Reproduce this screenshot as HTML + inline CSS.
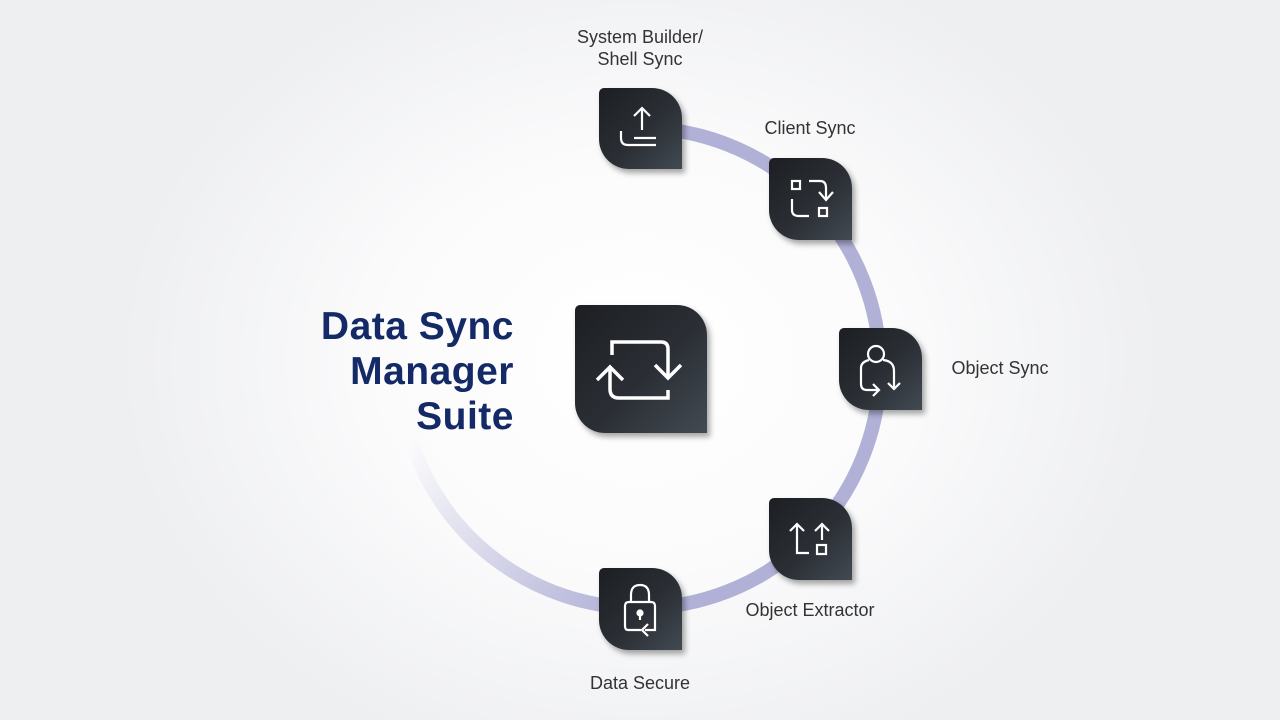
<!DOCTYPE html>
<html><head><meta charset="utf-8"><style>
html,body{margin:0;padding:0}
body{width:1280px;height:720px;position:relative;overflow:hidden;font-family:"Liberation Sans",sans-serif;
background:radial-gradient(ellipse 520px 420px at 640px 360px,#ffffff 0%,#fbfbfc 50%,#eeeff1 100%);}
.t{position:absolute;background:linear-gradient(135deg,#1c1e22 0%,#2b2f35 55%,#424a52 100%);
border-radius:5px 30px 0 30px;box-shadow:3px 4px 6px rgba(0,0,0,.35);}
.t svg{position:absolute;left:0;top:0;width:100%;height:100%}
.l{position:absolute;color:#333;font-size:18px;text-align:center;line-height:22px}
.title{position:absolute;right:766px;top:304px;text-align:right;color:#132a66;font-weight:bold;font-size:39px;line-height:45px;letter-spacing:.5px}
</style></head><body>
<svg width="1280" height="720" style="position:absolute;left:0;top:0">
<defs><linearGradient id="g" gradientUnits="userSpaceOnUse" x1="640" y1="608" x2="410" y2="440">
<stop offset="0" stop-color="#aeaed6"/><stop offset="1" stop-color="#aeaed6" stop-opacity="0"/></linearGradient></defs>
<path d="M640 128 A240 240 0 0 1 640 608" fill="none" stroke="#b1b1d7" stroke-width="14"/>
<path d="M640 608 A240 240 0 0 1 406 421" fill="none" stroke="url(#g)" stroke-width="14"/>
</svg>
<div class="title">Data Sync<br>Manager<br>Suite</div>

<div class="t" style="left:575px;top:305px;width:132px;height:128px">
<svg viewBox="0 0 132 128" fill="none" stroke="#fff" stroke-width="3.5">
<path d="M37 50 V37 H86 Q93 37 93 44 V73"/><path d="M80 60 L93 73 L106 60"/>
<path d="M35 63 V84 Q35 93 44 93 H93 V85"/><path d="M22 75 L35 62 L48 75"/></svg></div>

<div class="t" style="left:599px;top:88px;width:83px;height:81px">
<svg viewBox="0 0 83 81" fill="none" stroke="#fff" stroke-width="2.2">
<path d="M43 20 V42"/><path d="M35 28 L43 20 L51 28"/><path d="M22 43 V50 Q22 57 29 57 H57"/><path d="M35 50 H57"/></svg></div>

<div class="t" style="left:769px;top:158px;width:83px;height:82px">
<svg viewBox="0 0 83 82" fill="none" stroke="#fff" stroke-width="2.2">
<rect x="23" y="23" width="8" height="8"/><path d="M40 23 H51 Q57 23 57 30 V40"/><path d="M50 34 L57 42 L64 34"/>
<path d="M23 41 V52 Q23 58 30 58 H40"/><rect x="50" y="50" width="8" height="8"/></svg></div>

<div class="t" style="left:839px;top:328px;width:83px;height:82px">
<svg viewBox="0 0 83 82" fill="none" stroke="#fff" stroke-width="2.2">
<circle cx="37" cy="26" r="8"/><path d="M30 32 Q22 34 22 40 V56 Q22 62 28 62 H40"/><path d="M34 56 L40 62 L34 68"/>
<path d="M44 32 Q55 33 55 43 V60"/><path d="M49 55 L55 61 L61 55"/></svg></div>

<div class="t" style="left:769px;top:498px;width:83px;height:82px">
<svg viewBox="0 0 83 82" fill="none" stroke="#fff" stroke-width="2.2">
<path d="M28 26 V55 H40"/><path d="M21 33 L28 26 L35 33"/><path d="M53 26 V42"/><path d="M46 33 L53 26 L60 33"/>
<rect x="48" y="47" width="9" height="9"/></svg></div>

<div class="t" style="left:599px;top:568px;width:83px;height:82px">
<svg viewBox="0 0 83 82" fill="none" stroke="#fff" stroke-width="2.2">
<path d="M32 34 V27 Q32 17 41 17 Q50 17 50 27 V34"/><path d="M42 62 H29 Q26 62 26 58 V38 Q26 34 30 34 H52 Q56 34 56 38 V62 H46"/>
<path d="M49 56 L43 62 L49 68"/><circle cx="41" cy="45" r="2.5" fill="#fff"/><path d="M41 47 V52"/></svg></div>

<div class="l" style="left:540px;top:26px;width:200px">System Builder/<br>Shell Sync</div>
<div class="l" style="left:740px;top:117px;width:140px">Client Sync</div>
<div class="l" style="left:935px;top:357px;width:130px">Object Sync</div>
<div class="l" style="left:720px;top:599px;width:180px">Object Extractor</div>
<div class="l" style="left:560px;top:672px;width:160px">Data Secure</div>
</body></html>
